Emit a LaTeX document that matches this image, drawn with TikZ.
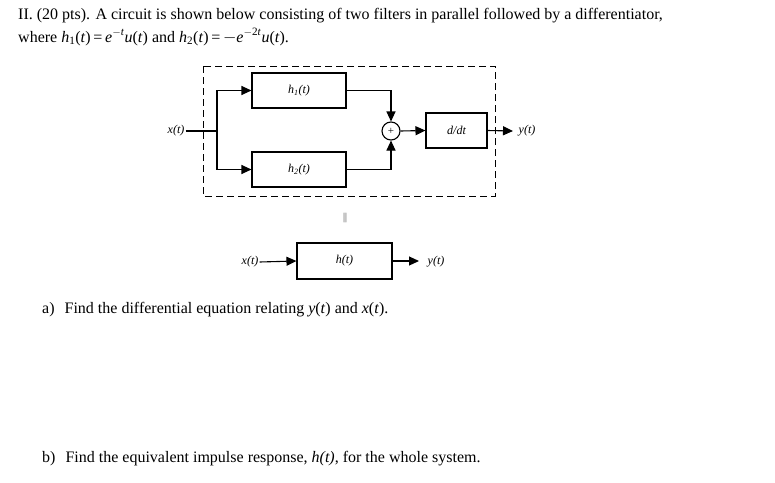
\documentclass[tikz,border=0pt]{standalone}
\usepackage{fontspec}
\setmainfont{Liberation Serif}
\usetikzlibrary{arrows.meta}
\newcommand{\vi}[1]{\textit{#1}}
\begin{document}
\begin{tikzpicture}[x=1pt,y=-1pt,
  txt/.style={anchor=west,inner sep=0pt,font=\fontsize{16}{18}\selectfont},
  blk/.style={draw,line width=1.1pt,minimum width=94pt,minimum height=35pt,inner sep=0pt,font=\fontsize{12}{14}\selectfont\itshape},
  lab/.style={inner sep=1pt,font=\fontsize{12}{14}\selectfont\itshape},
  arr/.style={line width=1.1pt,-{Triangle[length=10pt,width=9pt]}},
  ln/.style={line width=1.1pt}]
\useasboundingbox (0,0) rectangle (775,482);
\node[txt] (t1) at (18,16) {II. (20 pts). A circuit is shown below consisting of two filters in parallel followed by a differentiator,};
\node[txt] (t2) at (18,37) {where \vi{h}\textsubscript{1}(\vi{t})\,=\,\vi{e}\textsuperscript{$-$\vi{t}}\vi{u}(\vi{t}) and \vi{h}\textsubscript{2}(\vi{t})\,=\,$-$\vi{e}\textsuperscript{$-$2\vi{t}}\vi{u}(\vi{t}).};
\draw[line width=1pt,dash pattern=on 7pt off 4pt] (203,66) rectangle (495,196);
\node[blk] (h1) at (299,90.5) {h\textsubscript{1}(t)};
\node[blk] (h2) at (299,169.5) {h\textsubscript{2}(t)};
\node[draw,line width=1.1pt,circle,minimum size=18pt,inner sep=0pt,font=\fontsize{11}{11}\selectfont] (s) at (391,131) {+};
\node[blk,minimum width=61pt] (d) at (456.5,130.5) {d/dt};
\node[lab] (x) at (176,131) {x(t)};
\node[lab] (y) at (527,131) {y(t)};
\coordinate (b) at (217,131);
\coordinate (bo) at (513,131);
\draw[ln] (x.east) -- (b);
\draw[arr] (b) |- (h1.west);
\draw[arr] (b) |- (h2.west);
\draw[arr] (h1.east) -| (s.north);
\draw[arr] (h2.east) -| (s.south);
\draw[arr] (s.east) -- (d.west);
\draw[arr] (d.east) -- (bo);
\node[inner sep=0pt,font=\fontsize{10}{10}\selectfont] (eq) at (345,218) {$\Vert$};
\node[blk,minimum width=95pt,minimum height=36pt] (h) at (344.5,261) {h(t)};
\node[lab] (x2) at (250,262) {x(t)};
\node[lab] (y2) at (436,262) {y(t)};
\draw[arr] (x2.east) -- (h.west);
\coordinate (ho) at (419,261);
\draw[arr] (h.east) -- (ho);
\node[txt] (a) at (42,310) {a)\hspace{10pt}Find the differential equation relating \vi{y}(\vi{t}) and \vi{x}(\vi{t}).};
\node[txt] (bq) at (42,459) {b)\hspace{10pt}Find the equivalent impulse response, \textit{h(t)}, for the whole system.};
\end{tikzpicture}
\end{document}
